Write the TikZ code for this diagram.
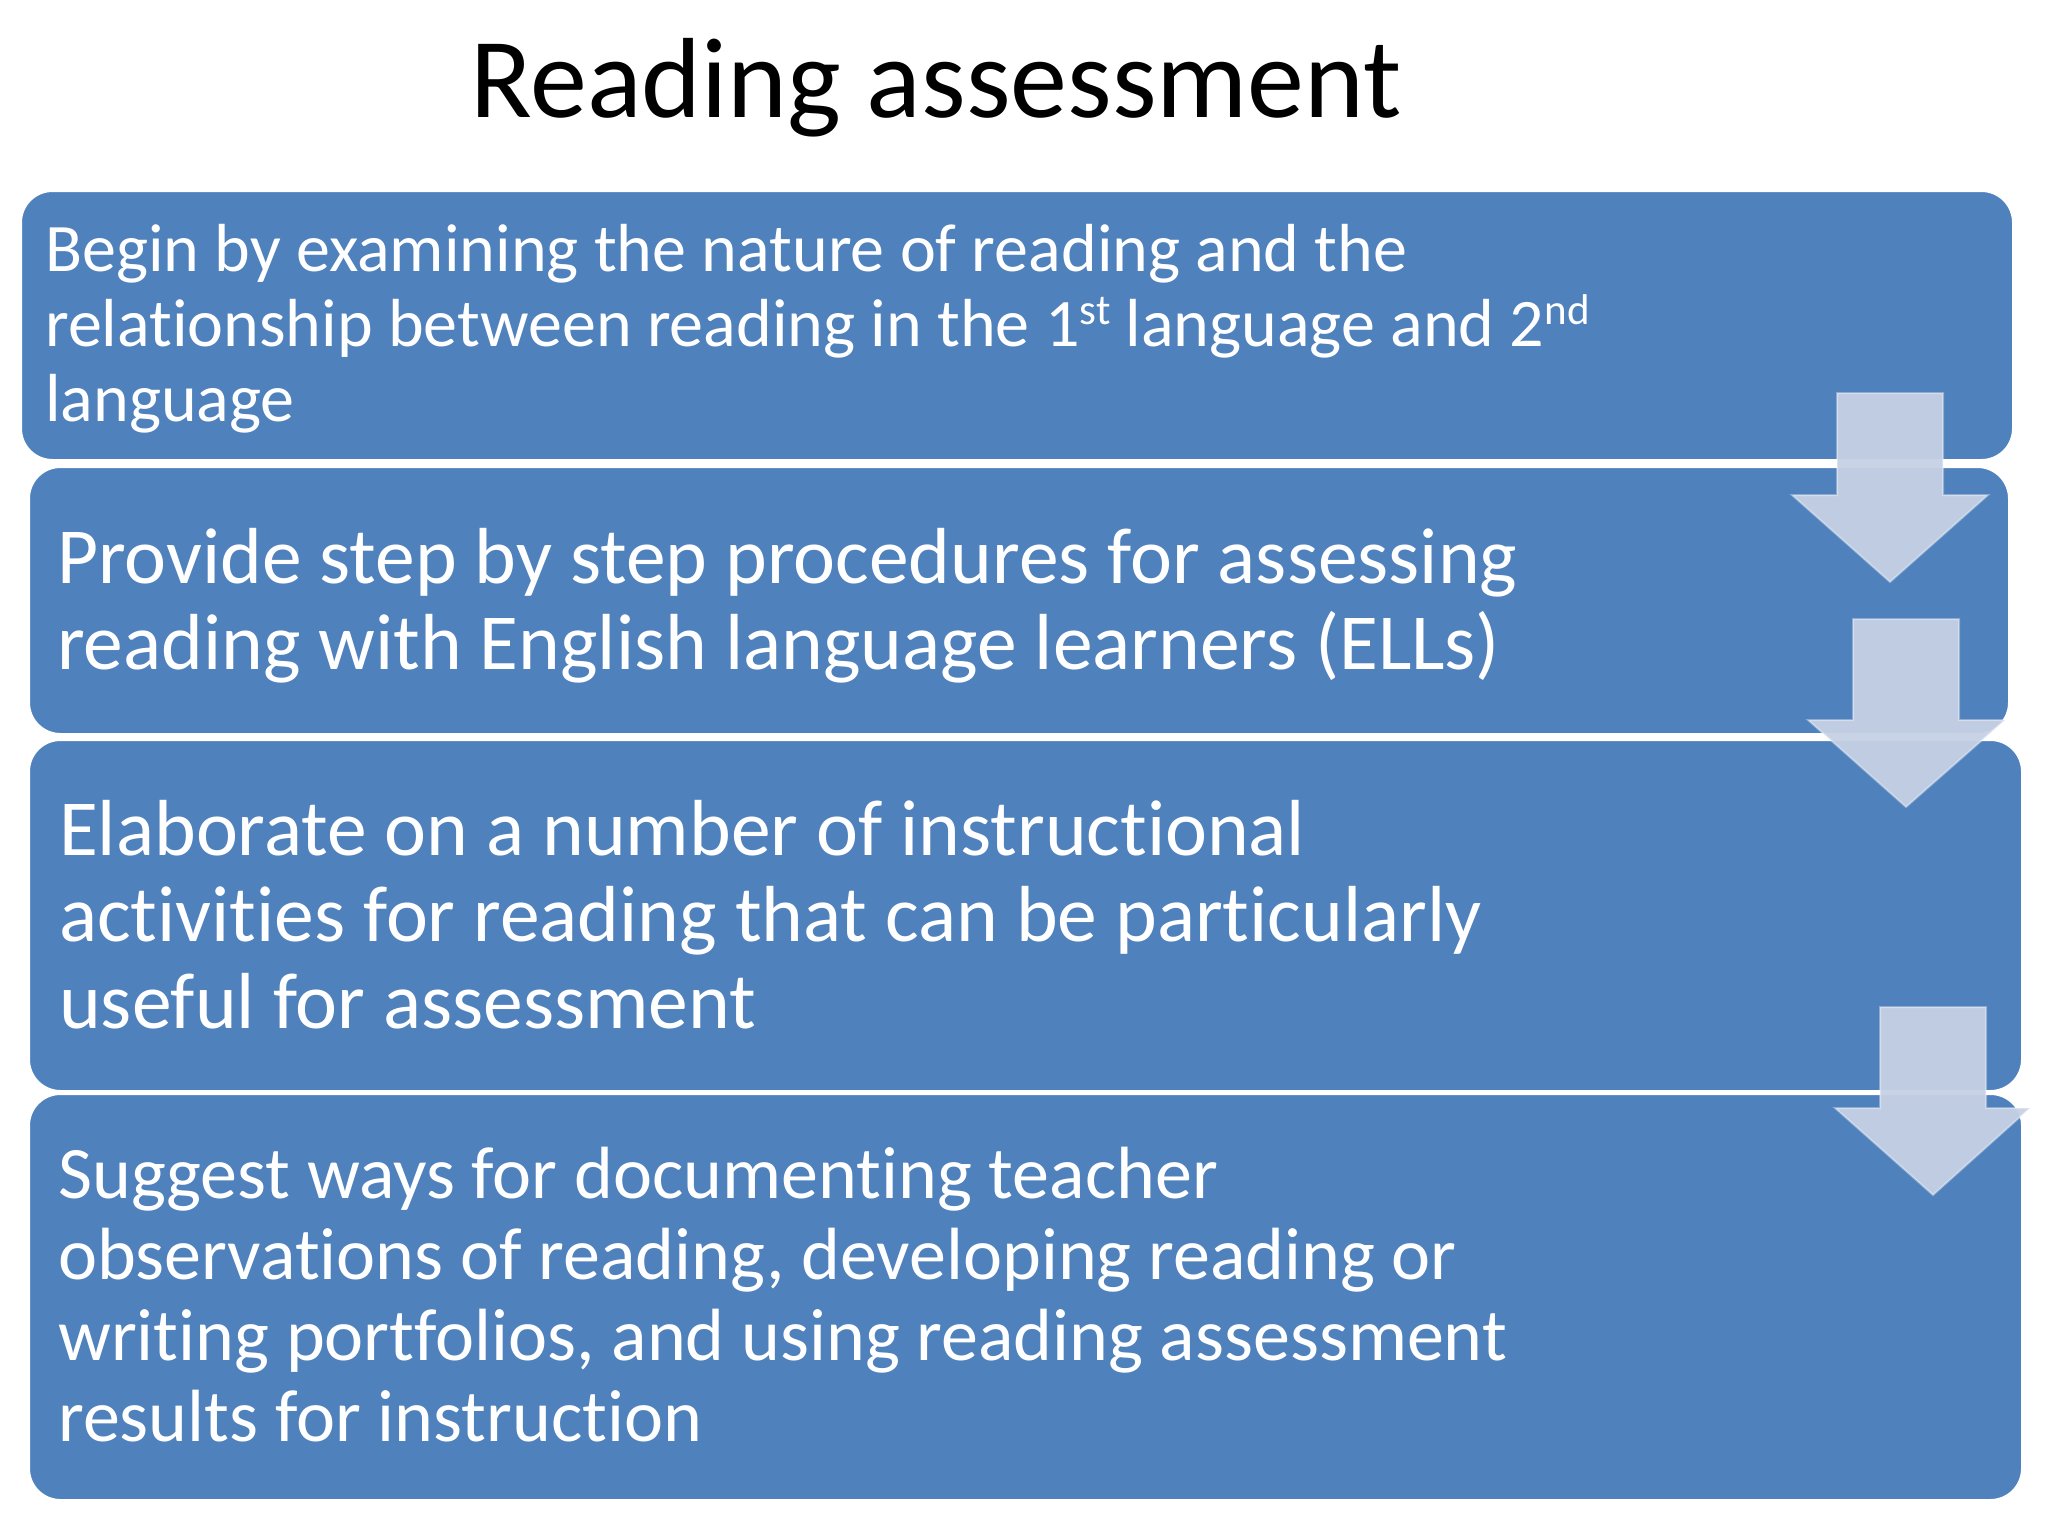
\documentclass[tikz,border=0pt]{standalone}
\usepackage{fontspec}
\setmainfont[Ligatures=NoCommon]{Carlito}
\definecolor{boxblue}{HTML}{4F81BD}
\definecolor{arrowfill}{HTML}{C6D1E5}
\newcommand{\supx}[1]{\raisebox{22pt}{\fontsize{43}{43}\selectfont #1}}
\begin{document}
\begin{tikzpicture}[x=1pt,y=-1pt,
  box/.style={draw=white,line width=3pt,fill=boxblue,rounded corners=32pt,anchor=north west,inner sep=0pt},
  arr/.style={fill=arrowfill,fill opacity=0.94,draw=white,draw opacity=0.35,line width=2pt},
  tA/.style={anchor=base west,inner sep=0pt,text=white,font=\fontsize{68}{75}\selectfont},
  tB/.style={anchor=base west,inner sep=0pt,text=white,font=\fontsize{79.5}{86}\selectfont},
  tD/.style={anchor=base west,inner sep=0pt,text=white,font=\fontsize{74}{81}\selectfont},
  title/.style={anchor=base,inner sep=0pt,text=black,font=\fontsize{114}{134}\selectfont}]
\fill[white] (0,0) rectangle (2048,1536);
\useasboundingbox (0,0) rectangle (2048,1536);
\node[title] (title) at (936,118) {Reading assessment};
% boxes
\node[box,minimum width=1993pt,minimum height=270pt] (b1) at (19,189) {};
\node[box,minimum width=1981pt,minimum height=268pt] (b2) at (27,465) {};
\node[box,minimum width=1994pt,minimum height=352pt] (b3) at (27,738) {};
\node[box,minimum width=1994pt,minimum height=407pt] (b4) at (27,1092) {};
% texts
\node[tA] (t11) at (45,271) {Begin by examining the nature of reading and the};
\node[tA] (t12) at (45,346) {relationship between reading in the 1\supx{st} language and 2\supx{nd}};
\node[tA] (t13) at (45,421) {language};
\node[tB] (t21) at (57,583) {Provide step by step procedures for assessing};
\node[tB] (t22) at (57,669) {reading with English language learners (ELLs)};
\node[tB] (t31) at (59,855) {Elaborate on a number of instructional};
\node[tB] (t32) at (59,941) {activities for reading that can be particularly};
\node[tB] (t33) at (59,1028) {useful for assessment};
\node[tD] (t41) at (58,1198) {Suggest ways for documenting teacher};
\node[tD] (t42) at (58,1279) {observations of reading, developing reading or};
\node[tD] (t43) at (58,1360) {writing portfolios, and using reading assessment};
\node[tD] (t44) at (58,1441) {results for instruction};
% arrows
\draw[arr] (1837,393) -- (1943,393) -- (1943,495) -- (1988,495) -- (1890,582) -- (1792,495) -- (1837,495) -- cycle;
\draw[arr] (1853,619) -- (1959,619) -- (1959,720) -- (2005,720) -- (1906,807) -- (1808,720) -- (1853,720) -- cycle;
\draw[arr] (1880,1007) -- (1986,1007) -- (1986,1108) -- (2030,1108) -- (1933,1195) -- (1835,1108) -- (1880,1108) -- cycle;
\end{tikzpicture}
\end{document}
